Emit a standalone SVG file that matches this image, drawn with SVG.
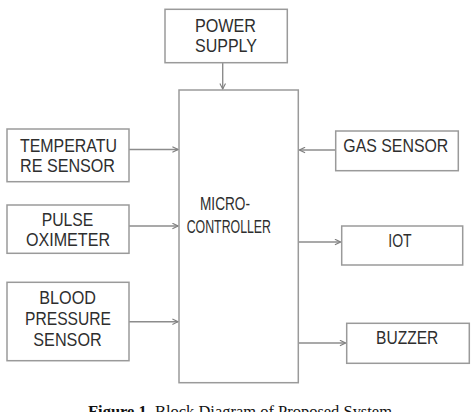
<svg xmlns="http://www.w3.org/2000/svg" width="474" height="412" viewBox="0 0 474 412">
<defs>
<style>
.box{fill:#fff;stroke:#9a9a9a;stroke-width:1.5}
.t{font-family:"Liberation Sans",Arial,sans-serif;font-size:18.5px;fill:#2e2e2e}
.c{stroke:#8c8c8c;stroke-width:1.4;fill:none}
.cap{font-family:"Liberation Serif","Times New Roman",serif;font-size:17px;fill:#111}
</style>
<marker id="ah" viewBox="0 0 10 10" refX="9" refY="5" markerWidth="7" markerHeight="7" markerUnits="userSpaceOnUse" orient="auto">
<path d="M1,1 L9,5 L1,9" fill="none" stroke="#808080" stroke-width="1.6"/>
</marker>
</defs>
<rect width="474" height="412" fill="#fff"/>
<g id="connectors">
<line class="c" x1="222.7" y1="62.7" x2="222.7" y2="89" marker-end="url(#ah)"/>
<line class="c" x1="129" y1="149.5" x2="178" y2="149.5" marker-end="url(#ah)"/>
<line class="c" x1="335.7" y1="150" x2="299.5" y2="150" marker-end="url(#ah)"/>
<line class="c" x1="129" y1="226" x2="178" y2="226" marker-end="url(#ah)"/>
<line class="c" x1="129" y1="321.7" x2="178" y2="321.7" marker-end="url(#ah)"/>
<line class="c" x1="298.3" y1="242" x2="340.5" y2="242" marker-end="url(#ah)"/>
<line class="c" x1="298.3" y1="343" x2="345.5" y2="343" marker-end="url(#ah)"/>
</g>
<g id="power-supply">
<rect class="box" x="165" y="9.3" width="122.3" height="53.4"/>
<text class="t" x="195" y="31.7" textLength="61" lengthAdjust="spacingAndGlyphs">POWER</text>
<text class="t" x="195" y="52.3" textLength="62" lengthAdjust="spacingAndGlyphs">SUPPLY</text>
</g>
<g id="microcontroller">
<rect class="box" x="179" y="90" width="119.3" height="292.7"/>
<text class="t" x="200" y="210" textLength="50" lengthAdjust="spacingAndGlyphs">MICRO-</text>
<text class="t" x="186.7" y="233.3" textLength="84.3" lengthAdjust="spacingAndGlyphs">CONTROLLER</text>
</g>
<g id="temperature-sensor">
<rect class="box" x="7" y="129" width="122" height="52.7"/>
<text class="t" x="20" y="151.7" textLength="97" lengthAdjust="spacingAndGlyphs">TEMPERATU</text>
<text class="t" x="20" y="171.7" textLength="95" lengthAdjust="spacingAndGlyphs">RE SENSOR</text>
</g>
<g id="pulse-oximeter">
<rect class="box" x="7" y="205" width="122" height="48.3"/>
<text class="t" x="41.7" y="225.7" textLength="51.6" lengthAdjust="spacingAndGlyphs">PULSE</text>
<text class="t" x="26" y="245.7" textLength="84" lengthAdjust="spacingAndGlyphs">OXIMETER</text>
</g>
<g id="blood-pressure-sensor">
<rect class="box" x="7" y="282.3" width="122" height="78.4"/>
<text class="t" x="39.3" y="304.3" textLength="56.7" lengthAdjust="spacingAndGlyphs">BLOOD</text>
<text class="t" x="25" y="325" textLength="86" lengthAdjust="spacingAndGlyphs">PRESSURE</text>
<text class="t" x="33.3" y="345.7" textLength="68.4" lengthAdjust="spacingAndGlyphs">SENSOR</text>
</g>
<g id="gas-sensor">
<rect class="box" x="335.7" y="131" width="122.6" height="39.7"/>
<text class="t" x="343.3" y="152.3" textLength="105" lengthAdjust="spacingAndGlyphs">GAS SENSOR</text>
</g>
<g id="iot">
<rect class="box" x="341.7" y="226" width="121" height="39"/>
<text class="t" x="388.3" y="246.7" textLength="23.4" lengthAdjust="spacingAndGlyphs">IOT</text>
</g>
<g id="buzzer">
<rect class="box" x="346.7" y="323.3" width="122.6" height="40"/>
<text class="t" x="376" y="344.3" textLength="62.3" lengthAdjust="spacingAndGlyphs">BUZZER</text>
</g>
<text class="cap" x="88" y="416.5" textLength="304" lengthAdjust="spacingAndGlyphs"><tspan font-weight="bold">Figure 1.</tspan> Block Diagram of Proposed System</text>
</svg>
